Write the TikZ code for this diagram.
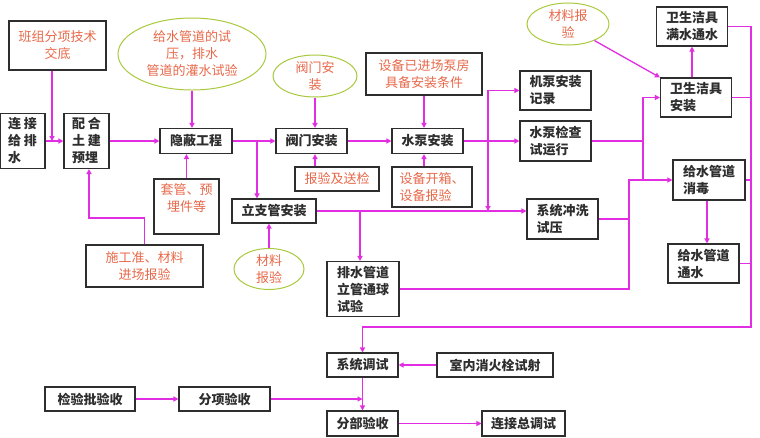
\documentclass[tikz,border=0pt]{standalone}
\usepackage{fontspec}
\setmainfont{Noto Sans CJK SC}
\usepackage{xcolor}
\usepackage{tikz}
\usetikzlibrary{shapes.geometric, arrows.meta, positioning}
\definecolor{linkmag}{HTML}{E22EE2}
\definecolor{textred}{HTML}{E8694A}
\definecolor{textdark}{HTML}{2E2E2E}
\definecolor{ellgreen}{HTML}{A9C93E}

\begin{document}
\begin{tikzpicture}[
    x=1pt, y=-1pt,
    box/.style={draw=textdark, line width=1.1pt, fill=white, align=left, inner xsep=6pt, inner ysep=2pt, text=textdark, font=\bfseries\fontsize{13}{17}\selectfont},
    rbox/.style={box, text=textred, align=center, font=\fontsize{13}{17}\selectfont},
    ell/.style={ellipse, draw=ellgreen, line width=1pt, fill=white, inner sep=0pt, align=center, text=textred, font=\fontsize{13}{17}\selectfont},
    link/.style={draw=linkmag, line width=1.3pt, -{Triangle[length=5pt, width=5pt]}},
    wire/.style={draw=linkmag, line width=1.3pt}
]
\useasboundingbox[fill=white] (0,0) rectangle (760,437);

% top row: notes and ellipses
\node[rbox, minimum width=97pt, minimum height=49pt] (banzu) at (57.5,45.5) {班组分项技术\\交底};
\node[ell, minimum width=148pt, minimum height=72pt] (e1) at (192,54) {给水管道的试\\压，排水\\管道的灌水试验};
\node[ell, minimum width=84pt, minimum height=42pt] (e2) at (315,76) {阀门安\\装};
\node[rbox, minimum width=116pt, minimum height=42pt] (shebei) at (424,74) {设备已进场泵房\\具备安装条件};
\node[ell, minimum width=82pt, minimum height=42pt] (e3) at (568,24) {材料报\\验};
\node[box, minimum width=71pt, minimum height=39pt] (manshui) at (692,26.5) {卫生洁具\\满水通水};

% main row
\node[box, minimum width=45pt, minimum height=55pt, inner xsep=4pt] (lianjie) at (22.5,141) {连\ 接\\给\ 排\\水};
\node[box, minimum width=45pt, minimum height=55pt, inner xsep=4pt] (peihe) at (86.5,141) {配\ 合\\土\ 建\\预埋};
\node[box, minimum width=72pt, minimum height=25pt] (yinbi) at (196,141) {隐蔽工程};
\node[box, minimum width=71pt, minimum height=25pt] (famen) at (311.5,141) {阀门安装};
\node[box, minimum width=71pt, minimum height=25pt] (shuibeng) at (427.5,141) {水泵安装};
\node[box, minimum width=71pt, minimum height=39pt] (jibeng) at (555.5,90.5) {机泵安装\\记录};
\node[box, minimum width=71pt, minimum height=40pt] (jiancha) at (555.5,141) {水泵检查\\试运行};
\node[box, minimum width=71pt, minimum height=39pt] (weiyu) at (696,97.5) {卫生洁具\\安装};

% notes under the main row
\node[rbox, minimum width=65pt, minimum height=55pt] (taoguan) at (186.5,206.5) {套管、预\\埋件等\\ \mbox{}};
\node[rbox, minimum width=84pt, minimum height=24pt] (baoyan) at (337,179) {报验及送检};
\node[rbox, minimum width=80pt, minimum height=40pt, align=left] (kaixiang) at (432,187) {设备开箱、\\设备报验};
\node[box, minimum width=84pt, minimum height=24pt] (lizhiguan) at (274,211) {立支管安装};
\node[box, minimum width=71pt, minimum height=40pt] (chongxi) at (562.5,219) {系统冲洗\\试压};
\node[box, minimum width=72pt, minimum height=40pt] (xiaodu) at (709,180) {给水管道\\消毒};
\node[box, minimum width=71pt, minimum height=39pt] (tongshui) at (703.5,263.5) {给水管道\\通水};
\node[rbox, minimum width=117pt, minimum height=42pt] (shigong) at (144.5,266) {施工准、材料\\进场报验};
\node[ell, minimum width=70pt, minimum height=38pt] (e4) at (269,269) {材料\\报验};
\node[box, minimum width=72pt, minimum height=55pt] (paishui) at (363,289) {排水管道\\立管通球\\试验};

% bottom rows
\node[box, minimum width=71pt, minimum height=24pt] (tiaoshi) at (362.5,365) {系统调试};
\node[box, minimum width=116pt, minimum height=24pt] (xiaohuo) at (495,365) {室内消火栓试射};
\node[box, minimum width=90pt, minimum height=24pt] (jianyan) at (90,399) {检验批验收};
\node[box, minimum width=91pt, minimum height=24pt] (fenxiang) at (224.5,399) {分项验收};
\node[box, minimum width=71pt, minimum height=25pt] (fenbu) at (362.5,423.5) {分部验收};
\node[box, minimum width=83pt, minimum height=25pt] (zongtiao) at (523.5,423.5) {连接总调试};

% junctions
\coordinate (j1) at (52,141);
\coordinate (j2) at (257,141);
\coordinate (j3) at (488,141);
\coordinate (j4) at (488,211);
\coordinate (j5) at (360,211);
\coordinate (j6) at (89,218);
\coordinate (j7) at (643,141);
\coordinate (j8) at (629,180);
\coordinate (j9) at (751,327);

\draw[link] (j1 |- banzu.south) -- (j1);
\draw[link] (lianjie) -- (peihe);
\draw[link] (peihe) -- (yinbi);
\draw[link] (e1.south) -- (e1.south |- yinbi.north);
\draw[link] (yinbi) -- (famen);
\draw[link] (j2) -- (j2 |- lizhiguan.north);
\draw[link] (e2.south) -- (e2.south |- famen.north);
\draw[link] (famen) -- (shuibeng);
\draw[link] (shebei.south) -- (shebei.south |- shuibeng.north);
\draw[link] (shuibeng.east) -- (shuibeng.east -| jiancha.west);
\draw[link] (j3) |- (jibeng.west);
\draw[link] (j3) -- (j4);
\draw[link] (baoyan.north -| e2.south) -- (famen.south -| e2.south);
\draw[link] (kaixiang.north -| shebei.south) -- (shuibeng.south -| shebei.south);
\draw[link] (taoguan.north) -- (taoguan.north |- yinbi.south);
\draw[link] (shigong.north) |- (j6) -- (j6 |- peihe.south);
\draw[link] (e4.north) -- (e4.north |- lizhiguan.south);
\draw[link] (lizhiguan.east) -- (lizhiguan.east -| chongxi.west);
\draw[link] (j5) -- (j5 |- paishui.north);

\draw[wire] (jiancha.east) -- (j7);
\draw[link] (j7) |- (weiyu.west);
\draw[wire] (j7) -- (j7 |- j8);
\draw[wire] (chongxi.east) -- (chongxi.east -| j8);
\draw[link] (paishui.east) -| (j8) -- (xiaodu.west);
\draw[link] (e3.-32) -- (weiyu.north west);
\draw[link] (weiyu.north -| manshui) -- (manshui.south);
\draw[link] (xiaodu.south -| 707,0) -- (tongshui.north -| 707,0);

\draw[wire] (weiyu.east) -- (weiyu.east -| j9);
\draw[wire] (xiaodu.east) -- (xiaodu.east -| j9);
\draw[wire] (tongshui.east) -- (tongshui.east -| j9);
\draw[link] (manshui.east) -| (j9) -| (tiaoshi.north);

\draw[link] (xiaohuo) -- (tiaoshi);
\draw[link] (tiaoshi) -- (fenbu);
\draw[link] (jianyan) -- (fenxiang);
\draw[link] (fenxiang.east) -- (fenxiang.east -| fenbu.north);
\draw[link] (fenbu) -- (zongtiao);
\end{tikzpicture}
\end{document}
